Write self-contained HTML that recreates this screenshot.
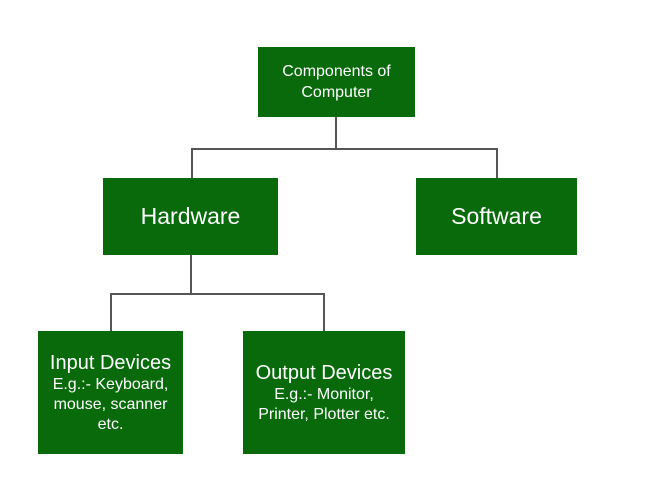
<!DOCTYPE html>
<html><head><style>
body{margin:0;width:660px;height:495px;background:#fff;position:relative;font-family:"Liberation Sans",sans-serif;overflow:hidden}
.b{position:absolute;background:#086a0b;color:#fff;display:flex;align-items:center;justify-content:center;text-align:center;flex-direction:column}
.l{position:absolute;background:#555}
</style></head><body>
<div class="l" style="left:335px;top:117px;width:1.5px;height:31px"></div>
<div class="l" style="left:191px;top:148px;width:307px;height:1.5px"></div>
<div class="l" style="left:191px;top:148px;width:1.5px;height:30px"></div>
<div class="l" style="left:496px;top:148px;width:1.5px;height:30px"></div>
<div class="l" style="left:190px;top:255px;width:1.5px;height:38px"></div>
<div class="l" style="left:110px;top:293px;width:214px;height:1.5px"></div>
<div class="l" style="left:110px;top:293px;width:1.5px;height:38px"></div>
<div class="l" style="left:323px;top:293px;width:1.5px;height:38px"></div>
<div class="b" style="left:258px;top:47px;width:157px;height:70px;font-size:16px;line-height:21px">Components of<br>Computer</div>
<div class="b" style="left:103px;top:178px;width:175px;height:77px;font-size:23px">Hardware</div>
<div class="b" style="left:416px;top:178px;width:161px;height:77px;font-size:23px">Software</div>
<div class="b" style="left:38px;top:331px;width:145px;height:123px;font-size:16px;line-height:20px"><span style="font-size:20px;line-height:24px">Input Devices</span>E.g.:- Keyboard,<br>mouse, scanner<br>etc.</div>
<div class="b" style="left:243px;top:331px;width:162px;height:123px;font-size:16px;line-height:20px"><span style="font-size:20px;line-height:24px">Output Devices</span>E.g.:- Monitor,<br>Printer, Plotter etc.</div>
</body></html>
